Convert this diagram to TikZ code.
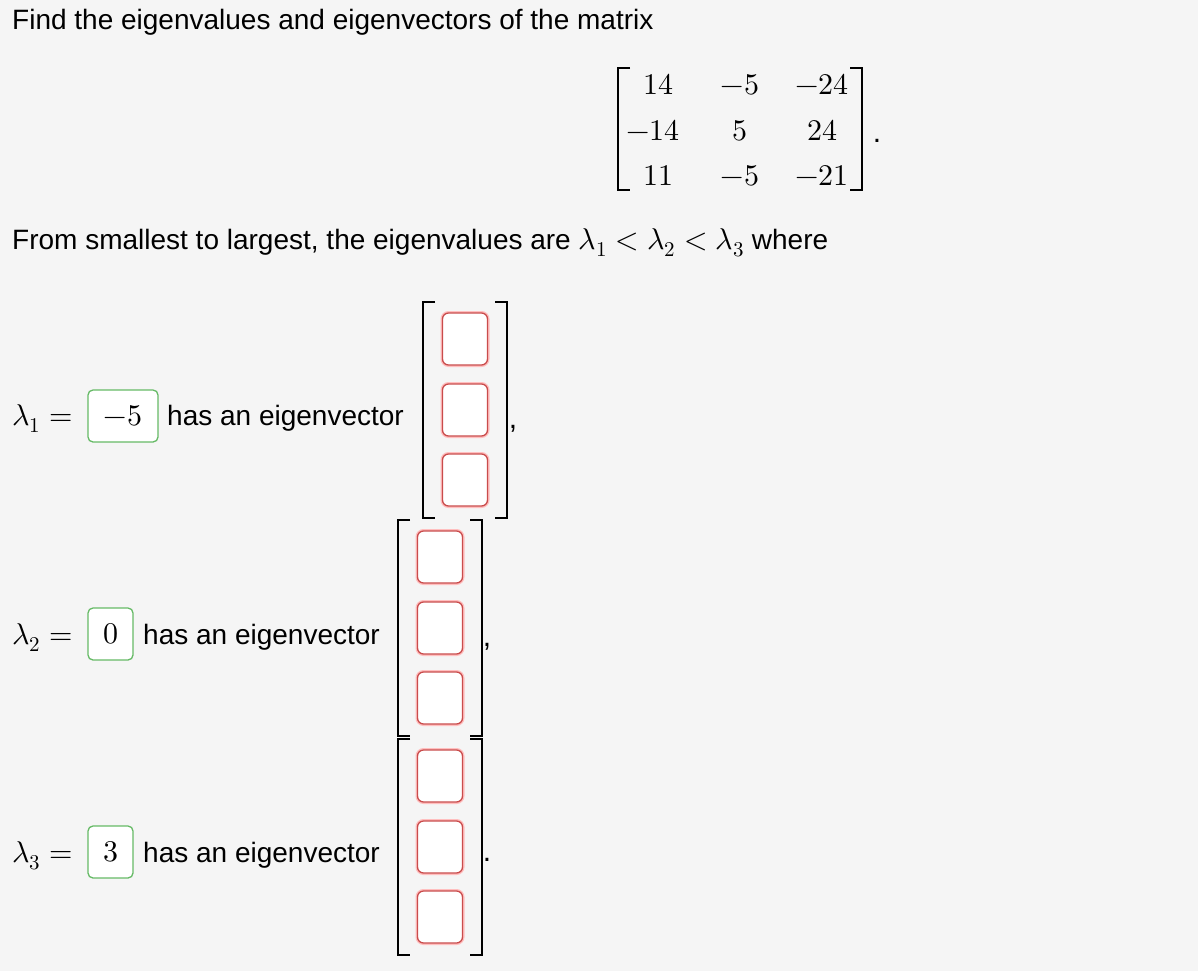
\documentclass[tikz,border=0pt]{standalone}
\usepackage{fontspec}
\setmainfont{Liberation Sans}
\usepackage{unicode-math}
\setmathfont{Latin Modern Math}
\tikzset{
  txt/.style={anchor=base west,inner sep=0pt,font=\fontsize{28}{32}\selectfont},
  mth/.style={anchor=base,inner sep=0pt,font=\fontsize{30}{32}\selectfont},
  ansbox/.style={draw=green!55!black!60,line width=1.3pt,rounded corners=5pt,fill=white,minimum height=52pt,inner sep=0pt,font=\fontsize{30}{32}\selectfont},
  redbox/.style={draw=red!70!black!70,line width=1.3pt,rounded corners=6pt,fill=white,minimum width=45pt,minimum height=52pt,inner sep=0pt,
    preaction={draw=red!25,line width=4pt,rounded corners=7pt}},
  brk/.style={line width=1.6pt}
}
\newcommand{\vecbox}[3]{% #1 name, #2 x left bracket, #3 y top
  \draw[brk] (#2+12,#3) -- (#2,#3) -- (#2,#3+216) -- (#2+12,#3+216);
  \draw[brk] (#2+72,#3) -- (#2+84,#3) -- (#2+84,#3+216) -- (#2+72,#3+216);
  \node[redbox] (#1a) at (#2+42,#3+37) {};
  \node[redbox] (#1b) at (#2+42,#3+108) {};
  \node[redbox] (#1c) at (#2+42,#3+178) {};
}
\begin{document}
\begin{tikzpicture}[x=1pt,y=-1pt]
\fill[black!4] (0,0) rectangle (1198,971);
\useasboundingbox (0,0) rectangle (1198,971);
\node[txt] (title) at (12,30) {Find the eigenvalues and eigenvectors of the matrix};
% matrix
\draw[brk] (630,68) -- (618,68) -- (618,190) -- (630,190);
\draw[brk] (850,68) -- (862,68) -- (862,190) -- (850,190);
\node[mth] (m11) at (658,95) {$14$};
\node[mth] (m12) at (740,95) {$-5$};
\node[mth] (m13) at (822,95) {$-24$};
\node[mth] (m21) at (653,140) {$-14$};
\node[mth] (m22) at (740,140) {$5$};
\node[mth] (m23) at (822,140) {$24$};
\node[mth] (m31) at (658,185) {$11$};
\node[mth] (m32) at (740,185) {$-5$};
\node[mth] (m33) at (822,185) {$-21$};
\node[mth] (dot0) at (877,142) {.};
\node[txt] (from) at (12,249) {From smallest to largest, the eigenvalues are {\fontsize{30}{32}\selectfont$\lambda_1<\lambda_2<\lambda_3$} where};
% row 1
\node[txt,font=\fontsize{30}{32}\selectfont] (l1) at (12,425) {$\lambda_1 =$};
\node[ansbox,minimum width=70pt] (a1) at (123,416) {$-5$};
\node[txt] (h1) at (167,425) {has an eigenvector};
\vecbox{v1}{423}{302}
\node[mth] (c1) at (513,428) {,};
% row 2
\node[txt,font=\fontsize{30}{32}\selectfont] (l2) at (12,644) {$\lambda_2 =$};
\node[ansbox,minimum width=45pt] (a2) at (110.5,634) {$0$};
\node[txt] (h2) at (143,644) {has an eigenvector};
\vecbox{v2}{398}{520}
\node[mth] (c2) at (487,646) {,};
% row 3
\node[txt,font=\fontsize{30}{32}\selectfont] (l3) at (12,862) {$\lambda_3 =$};
\node[ansbox,minimum width=45pt] (a3) at (110.5,852) {$3$};
\node[txt] (h3) at (143,862) {has an eigenvector};
\vecbox{v3}{398}{739}
\node[mth] (c3) at (487,861) {.};
\end{tikzpicture}
\end{document}
